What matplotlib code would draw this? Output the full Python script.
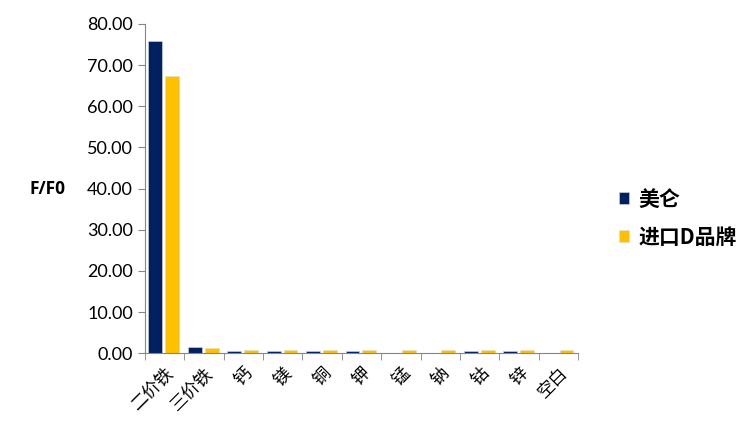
import matplotlib
matplotlib.use("Agg")
import matplotlib.pyplot as plt
import numpy as np
from matplotlib.ticker import FixedLocator

plt.rcParams['font.family'] = ['Noto Sans CJK SC', 'DejaVu Sans']

categories = ["二价铁", "三价铁", "钙", "镁", "铜", "钾", "锰", "钠", "钴", "锌", "空白"]
meilun = [75.8, 1.4, 0.5, 0.5, 0.5, 0.5, 0.0, 0.0, 0.5, 0.5, 0.0]
import_d = [67.3, 1.2, 0.7, 0.7, 0.7, 0.7, 0.7, 0.7, 0.7, 0.7, 0.7]
series_names = ["美仑", "进口D品牌"]
yticks = [0, 10, 20, 30, 40, 50, 60, 70, 80]

navy = "#002060"
gold = "#FFC000"

fig = plt.figure(figsize=(7.5, 4.36), dpi=100)
ax = fig.add_axes([0.193, 0.19, 0.578, 0.755])

x = np.arange(len(categories))
w = 0.35
ax.bar(x - 0.23, meilun, w, color=navy, label=series_names[0], edgecolor="#dcdcdc", linewidth=0.4)
ax.bar(x + 0.2, import_d, w, color=gold, label=series_names[1], edgecolor="#dcdcdc", linewidth=0.4)

ax.set_xlim(-0.5, len(categories) - 0.5)
ax.set_ylim(0, 80)
ax.set_yticks(yticks)
ax.set_yticklabels([f"{v:.2f}" for v in yticks], fontfamily="Lato", fontsize=13)

ax.set_xticks(x)
ax.set_xticklabels(categories, rotation=45, ha="right", rotation_mode="anchor", fontsize=12.5)
ax.tick_params(axis="x", which="major", length=0, pad=8)
ax.xaxis.set_minor_locator(FixedLocator(np.arange(-0.5, len(categories), 1.0)))
ax.tick_params(axis="x", which="minor", length=5, color="#868686")
ax.tick_params(axis="y", length=5, color="#868686")

for s in ["top", "right"]:
    ax.spines[s].set_visible(False)
for s in ["left", "bottom"]:
    ax.spines[s].set_color("#868686")

fig.text(0.063, 0.567, "F/F0", fontfamily="Open Sans", fontweight="bold", fontsize=12.5, va="center", ha="center")

leg = fig.legend(loc="upper left", bbox_to_anchor=(0.800, 0.61), frameon=False,
                 handlelength=0.5, handleheight=0.5, handletextpad=0.45,
                 labelspacing=0.8, prop={"family": ["Noto Sans CJK SC"], "weight": "bold", "size": 15})

fig.savefig("out.png", dpi=100)
